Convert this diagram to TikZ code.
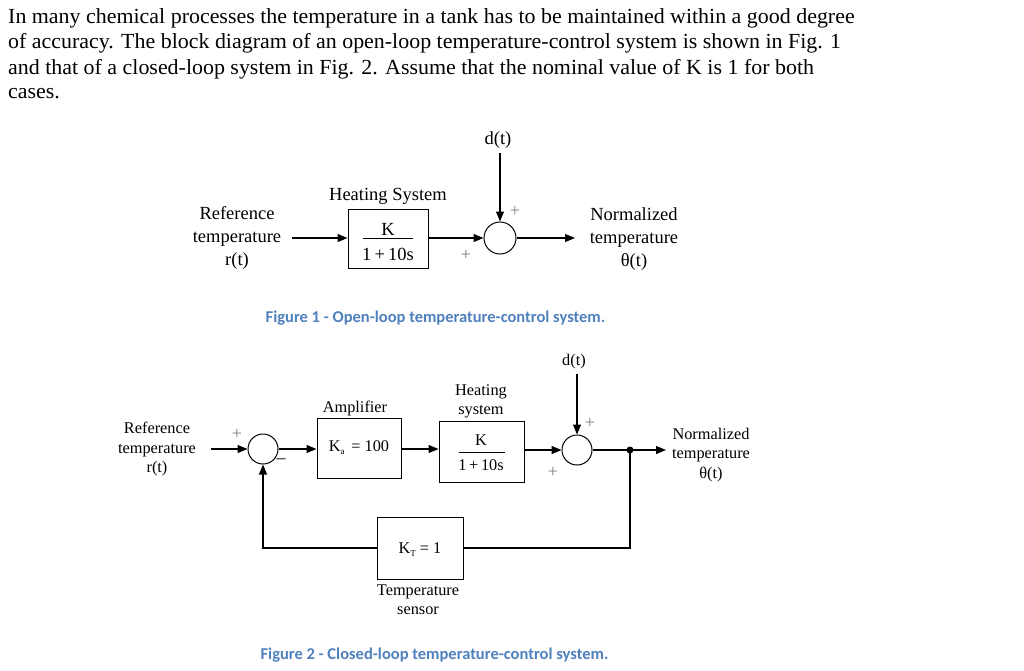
\documentclass[tikz,border=0pt]{standalone}
\usepackage{fontspec}
\setmainfont{Liberation Serif}
\newfontfamily\condfont[FakeStretch=1.02]{Liberation Serif}
\newfontfamily\capfont{Carlito}
\usetikzlibrary{arrows.meta}
\definecolor{capblue}{HTML}{4F81BD}
\begin{document}
\begin{tikzpicture}[x=1pt,y=-1pt,
  blk/.style={draw, line width=1pt, inner sep=0pt},
  sumc/.style={draw, circle, line width=1pt, inner sep=0pt},
  arr/.style={-{Triangle[length=10pt,width=8pt]}, line width=1.1pt},
  ln/.style={line width=1.1pt},
  lblA/.style={font=\fontsize{18.5}{23}\selectfont, align=center, inner sep=0pt},
  lblB/.style={font=\fontsize{16.3}{19.5}\selectfont, align=center, inner sep=0pt},
  sgn/.style={font=\fontsize{18}{18}\selectfont, text=gray, inner sep=0pt},
  para/.style={font=\condfont\fontsize{21.5}{25}\selectfont, anchor=base west, inner sep=0pt},
  capt/.style={font=\capfont\bfseries\fontsize{16.5}{18}\selectfont, text=capblue, inner sep=0pt},
  dot/.style={circle, fill, inner sep=0pt, minimum size=7pt}
]
\useasboundingbox (0,0) rectangle (1024,670);
% paragraph
\node[para] (p1) at (8,23) {In many chemical processes the temperature in a tank has to be maintained within a good degree};
\node[para] (p2) at (8,48) {of accuracy. The block diagram of an open-loop temperature-control system is shown in Fig. 1};
\node[para] (p3) at (8,74) {and that of a closed-loop system in Fig. 2. Assume that the nominal value of K is 1 for both};
\node[para] (p4) at (8,98) {cases.};

% ---------- Figure 1 ----------
\node[lblA] (ref1) at (237,238) {Reference\\temperature\\r(t)};
\coordinate (r1) at (292,238);
\node[blk, minimum width=80pt, minimum height=59pt] (h1) at (388,238.5) {};
\node[lblA] (h1lab) at (388,196) {Heating System};
\node[lblA] (h1n) at (388,229) {K};
\node[lblA] (h1d) at (388,254) {1\,+\,10s};
\draw[line width=0.8pt] ([xshift=-25pt]h1.center) -- ([xshift=25pt]h1.center);
\node[sumc, minimum size=32pt] (s1) at (500,238) {};
\node[lblA] (d1) at (498,140) {d(t)};
\node[sgn] (p1a) at (515,211) {+};
\node[sgn] (p1b) at (466,255) {+};
\coordinate (e1) at (575,238);
\node[lblA] (o1) at (634,239) {Normalized\\temperature\\θ(t)};
\draw[arr] (r1) -- (h1.west |- r1);
\draw[arr] (h1.east |- s1) -- (s1.west);
\draw[arr] (s1.north |- d1.south) ++(0,4) -- (s1.north);
\draw[arr] (s1.east) -- (e1);
\node[capt] (c1) at (435.5,318) {Figure 1 - Open-loop temperature-control system.};

% ---------- Figure 2 ----------
\node[lblB] (ref2) at (157,449) {Reference\\temperature\\r(t)};
\coordinate (r2) at (211,449);
\node[sumc, minimum size=30pt] (s2) at (263,449) {};
\node[sgn] (p2a) at (237,434) {+};
\node[sgn, text=black] (m2) at (281,461) {--};
\node[blk, minimum width=84pt, minimum height=60pt] (amp) at (359,448.5) {};
\node[lblB] (amplab) at (355,408) {Amplifier};
\node[lblB] (ampt) at (359,448) {K\raisebox{-3pt}{\fontsize{9}{9}\selectfont a}\,~=~100};
\node[blk, minimum width=85pt, minimum height=61pt] (h2) at (481.5,451.5) {};
\node[lblB] (h2lab) at (481,401.5) {Heating\\system};
\node[lblB] (h2n) at (481,440) {K};
\node[lblB] (h2d) at (481,465) {1\,+\,10s};
\draw[line width=0.8pt] ([xshift=-23pt,yshift=-0.5pt]h2.center) -- ([xshift=23pt,yshift=-0.5pt]h2.center);
\node[sumc, minimum size=30pt] (s3) at (577,450) {};
\node[lblB] (d2) at (574,362) {d(t)};
\node[sgn] (p3a) at (590,423) {+};
\node[sgn] (p3b) at (553,472) {+};
\node[dot] (j) at (630,450) {};
\coordinate (e2) at (666,450);
\node[lblB] (o2) at (711,455) {Normalized\\temperature\\θ(t)};
\node[blk, minimum width=86pt, minimum height=62pt] (sen) at (420,548) {};
\node[lblB] (sent) at (420,550) {K\raisebox{-3pt}{\fontsize{9}{9}\selectfont T}~=~1};
\node[lblB] (senlab) at (418,599.5) {Temperature\\sensor};
\draw[arr] (r2) -- (s2.west);
\draw[arr] (s2.east) -- (amp.west |- s2);
\draw[arr] (amp.east |- s2) -- (h2.west |- s2);
\draw[arr] (h2.east |- s3) -- (s3.west);
\draw[arr] (s3.north |- d2.south) ++(0,4) -- (s3.north);
\draw[ln] (s3.east) -- (j.center);
\draw[arr] (j.center) -- (e2);
\draw[ln] (j.center) -- (j |- sen.east) -- (sen.east);
\draw[arr] (sen.west) -- (s2 |- sen.west) -- (s2.south);
\node[capt] (c2) at (434.5,655) {Figure 2 - Closed-loop temperature-control system.};
\end{tikzpicture}
\end{document}
